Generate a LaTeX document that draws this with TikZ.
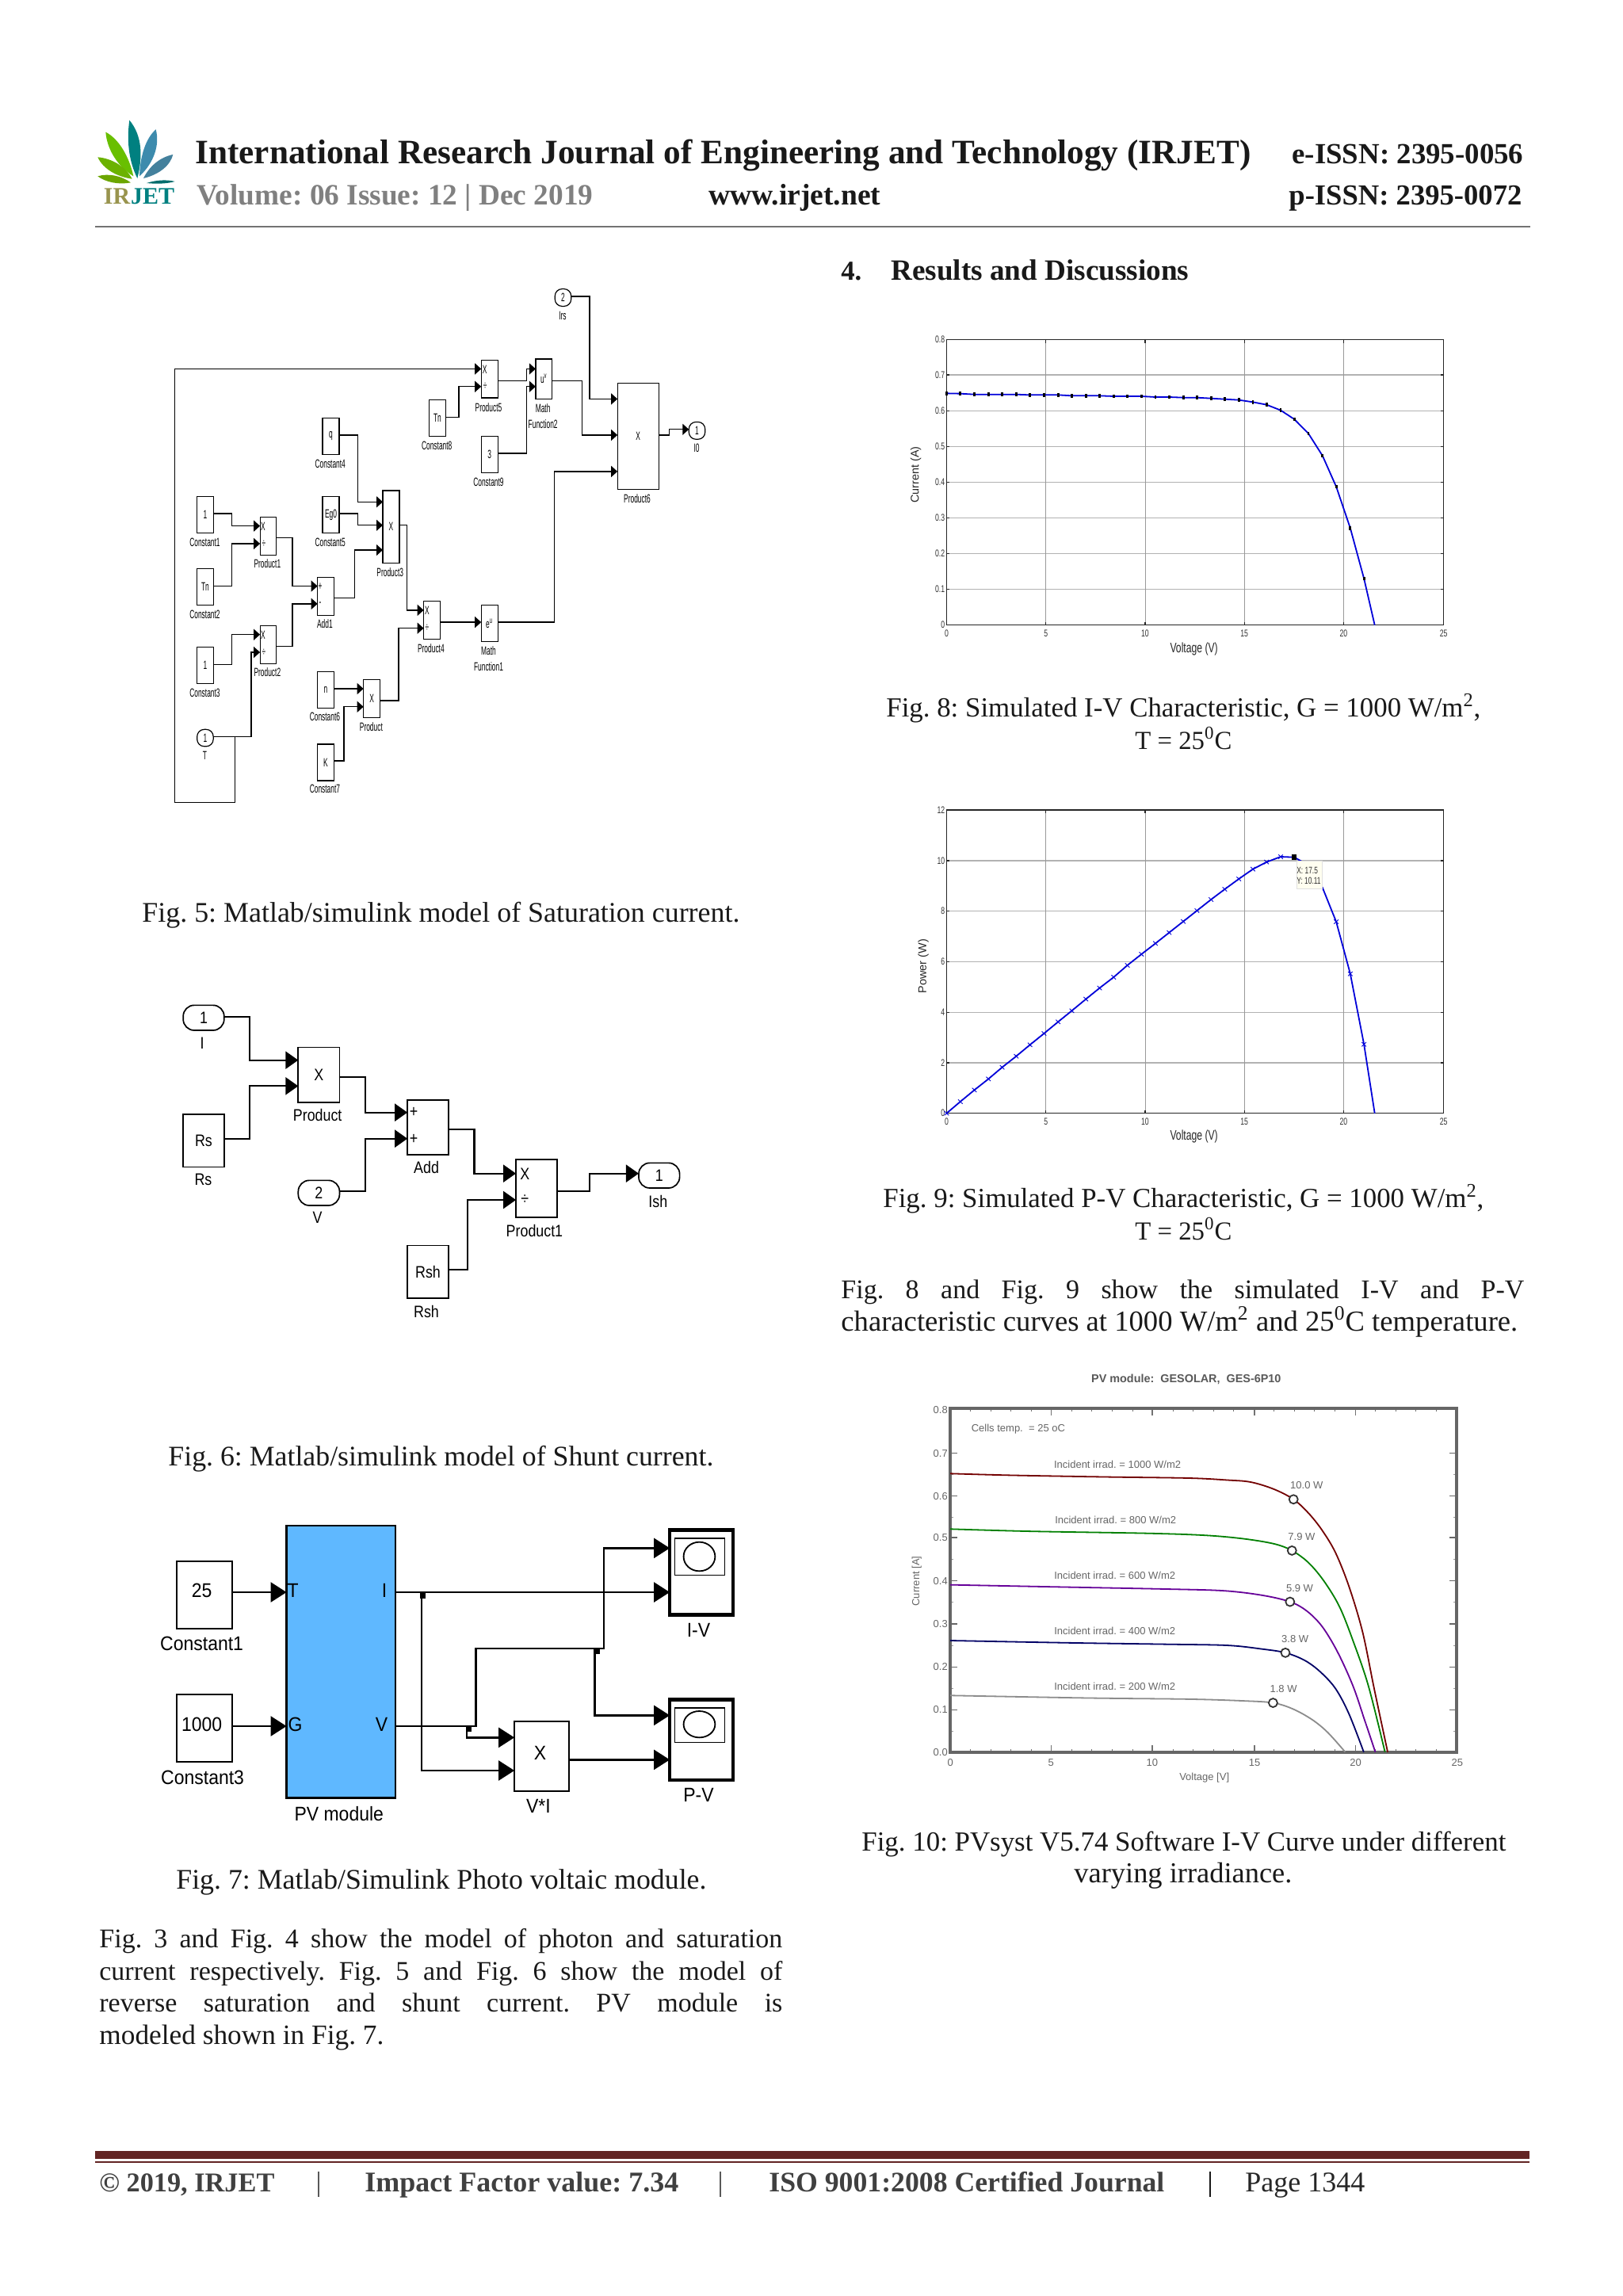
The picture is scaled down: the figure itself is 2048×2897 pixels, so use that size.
\documentclass[tikz,border=0pt]{standalone}
\usepackage{fontspec}
\setmainfont{Liberation Serif}
\newfontfamily\simA[FakeStretch=0.56]{Liberation Sans}
\newfontfamily\simB[FakeStretch=0.85]{Liberation Sans}
\newfontfamily\simC[FakeStretch=0.92]{Liberation Sans}
\newfontfamily\simD[FakeStretch=0.7]{Liberation Sans}
\newfontfamily\simE{Liberation Sans}
\usetikzlibrary{arrows.meta,plotmarks}
\definecolor{pvblue}{HTML}{5FB8FF}
\definecolor{footred}{HTML}{622423}
\frenchspacing
\newcounter{lc}
\newcommand{\setz}[4]{\def\ox{#1}\def\oy{#2}\def\sx{#3}\def\sy{#4}}
\newcommand{\tlab}[4][]{\stepcounter{lc}\node[lab,#1] (n\arabic{lc}) at (#2,#3) {#4};}
\newcommand{\simblk}[7][]{%
  \pgfmathsetmacro\bw{(#5-#3)/\sx*0.5}\pgfmathsetmacro\bh{(#6-#4)/\sy*0.5}%
  \pgfmathsetmacro\bx{(#3+#5)/2}\pgfmathsetmacro\by{(#4+#6)/2}%
  \node[block,minimum width=\bw pt,minimum height=\bh pt,#1] (#2) at (\bx,\by) {#7};}
\newcommand{\simconn}[5]{% src, ysrc, midx, dst, ydst
  \coordinate (Ya) at (0,#2);\coordinate (Yb) at (0,#5);\coordinate (Xm) at (#3,0);
  \draw[wire] (#1.east |- Ya) -- (Xm |- Ya) -- (Xm |- Yb) -- (#4.west |- Yb);}
\newcommand{\simdir}[3]{% src, y, dst
  \coordinate (Ya) at (0,#2);
  \draw[wire] (#1.east |- Ya) -- (#3.west |- Ya);}
\newcommand{\txl}[5][]{\pgfmathsetmacro\tw{(#3-#2)*0.5}\pgfmathsetmacro\ty{#4+10}\stepcounter{lc}%
  \node[anchor=base west,inner sep=0,body,#1] (n\arabic{lc}) at (#2,\ty) {\resizebox{\tw pt}{!}{#5}};}
\newcommand{\txj}[5][]{\pgfmathsetmacro\tw{(#3-#2)*0.5}\pgfmathsetmacro\ty{#4+10}\stepcounter{lc}%
  \node[anchor=base west,inner sep=0,body,#1] (n\arabic{lc}) at (#2,\ty) {\makebox[\tw pt][s]{#5}};}
\tikzset{
  lab/.style={inner sep=0,outer sep=0},
  block/.style={draw=black,fill=white,inner sep=0,outer sep=0},
  body/.style={font=\fontsize{17}{20}\selectfont,text=black!90},
  hd/.style={font=\fontsize{18}{20}\selectfont\bfseries},
  foot/.style={font=\fontsize{17}{20}\selectfont\bfseries,text=black!75},
  figA/.style={font=\fontsize{7.5}{9}\simA},
  figB/.style={font=\fontsize{10.5}{12}\simB},
  figC/.style={font=\fontsize{12.5}{15}\simC},
  tick/.style={font=\fontsize{6.2}{7}\simD,text=black!80},
  axl/.style={font=\fontsize{8.7}{10}\simD,text=black!85},
  gridH/.style={draw=black!30,line width=.6pt},
  gridV/.style={draw=black!40,line width=.3pt},
  frameP/.style={draw=black!85,line width=.6pt},
  tenlab/.style={font=\fontsize{6.5}{8}\simE,text=black!60},
  tencurve/.style={line width=.9pt,smooth,tension=.55},
  wireA/.style={draw=black,line width=.7pt,-{Triangle[length=4pt,width=7pt]}},
  wireB/.style={draw=black,line width=1.1pt,-{Triangle[length=8pt,width=11pt]}},
  wireC/.style={draw=black,line width=1.2pt,-{Triangle[length=10pt,width=12.5pt]}},
  plainC/.style={draw=black,line width=1.1pt},
}
\begin{document}
\begin{tikzpicture}[x=0.5pt,y=-0.5pt]
\useasboundingbox (0,0) rectangle (2048,2897);
\fill[white] (0,0) rectangle (2048,2897);

%% --- header logo
\begin{scope}[shift={(105,135)},xscale=1/3,yscale=1/3]
\fill[teal!75!cyan!80!black] (205,270) .. controls (225,190) and (225,110) .. (175,50) .. controls (165,120) and (170,200) .. (205,270) -- cycle;
\fill[cyan!55!teal!85!black] (213,262) .. controls (270,210) and (290,140) .. (275,85) .. controls (235,120) and (215,190) .. (213,262) -- cycle;
\fill[cyan!45!teal!80!black] (228,270) .. controls (290,255) and (330,220) .. (340,180) .. controls (290,190) and (250,225) .. (228,270) -- cycle;
\fill[teal!85!black] (240,288) .. controls (280,275) and (320,275) .. (347,282) .. controls (320,290) and (280,292) .. (240,288) -- cycle;
\fill[green!45!yellow!75!black] (190,262) .. controls (175,190) and (135,120) .. (85,95) .. controls (90,160) and (130,225) .. (190,262) -- cycle;
\fill[green!40!yellow!70!black] (185,272) .. controls (160,225) and (110,195) .. (55,190) .. controls (75,235) and (130,265) .. (185,272) -- cycle;
\fill[green!35!yellow!65!black] (180,286) .. controls (145,260) and (95,250) .. (55,262) .. controls (85,285) and (135,295) .. (180,286) -- cycle;
\tlab[font=\fontsize{15}{16}\selectfont\bfseries,text=olive!70!black!70]{128}{338}{IR}
\tlab[font=\fontsize{15}{16}\selectfont\bfseries,text=teal]{263}{338}{JET}
\end{scope}

%% --- header text
\txl[hd]{246}{1578}{196}{International Research Journal of Engineering and Technology (IRJET)}
\txl[hd]{1630}{1922}{196}{e-ISSN: 2395-0056}
\txl[hd,text=black!50]{248}{748}{248}{Volume: 06 Issue: 12 | Dec 2019}
\txl[hd]{894}{1111}{248}{www.irjet.net}
\txl[hd]{1626}{1920}{248}{p-ISSN: 2395-0072}
\draw[black!55,line width=1.3pt] (120,286) -- (1931,286);

%% --- Fig 5
\setz{200}{340}{2.053}{2.24}
\begin{scope}[shift={(\ox,\oy)},xscale=1/\sx,yscale=1/\sy,figA,
   block/.append style={line width=.6pt},wire/.style={wireA}]
\simblk{c1}{100}{642}{142}{745}{1}
\simblk{c2}{100}{846}{142}{949}{Tn}
\simblk{c3}{100}{1068}{142}{1171}{1}
\simblk[rounded corners=4.5pt]{tT}{100}{1300}{142}{1348}{1}
\simblk{p1}{263}{700}{305}{807}{}
\simblk{p2}{263}{1007}{305}{1114}{}
\simblk{add1}{412}{870}{454}{977}{}
\simblk{c4}{425}{420}{468}{523}{q}
\simblk{c5}{425}{642}{468}{745}{Eg0}
\simblk{p3}{581}{625}{624}{830}{X}
\simblk{p4}{687}{938}{730}{1045}{}
\simblk{mf1}{836}{949}{879}{1052}{e\textsuperscript{u}}
\simblk{c6}{412}{1136}{454}{1239}{n}
\simblk{c7}{412}{1342}{454}{1445}{K}
\simblk{p0}{531}{1160}{574}{1267}{X}
\simblk{p5}{836}{256}{879}{363}{}
\simblk{c8}{701}{369}{744}{472}{Tn}
\simblk{c9}{836}{471}{879}{574}{3}
\simblk{mf2}{977}{253}{1020}{366}{u\textsuperscript{v}}
\simblk{p6}{1189}{322}{1296}{622}{X}
\simblk[rounded corners=4.5pt]{irs}{1027}{55}{1069}{104}{2}
\simblk[rounded corners=4.5pt]{i0}{1374}{431}{1416}{480}{1}
\foreach \xx/\yy in {271/727,696/965,845/283}{\tlab{\xx}{\yy}{X}}
\tlab{271}{1033}{X}
\foreach \xx/\yy in {273/775,696/1014,846/331}{\tlab{\xx}{\yy}{÷}}
\tlab{273}{1082}{÷}
\tlab{419}{896}{+}\tlab{419}{945}{-}
\tlab{120}{772}{Constant1}\tlab{120}{975}{Constant2}\tlab{120}{1197}{Constant3}\tlab{120}{1375}{T}
\tlab{282}{832}{Product1}\tlab{282}{1138}{Product2}\tlab{431}{1002}{Add1}
\tlab{445}{549}{Constant4}\tlab{445}{771}{Constant5}\tlab{600}{855}{Product3}
\tlab{706}{1070}{Product4}\tlab{855}{1078}{Math}\tlab{855}{1122}{Function1}
\tlab{431}{1265}{Constant6}\tlab{431}{1469}{Constant7}\tlab{551}{1292}{Product}
\tlab{855}{390}{Product5}\tlab{721}{497}{Constant8}\tlab{855}{601}{Constant9}
\tlab{996}{393}{Math}\tlab{996}{436}{Function2}\tlab{1240}{648}{Product6}
\tlab{1047}{130}{Irs}\tlab{1394}{505}{I0}
\simconn{c1}{690}{190}{p1}{725}
\simconn{c2}{895}{190}{p1}{775}
\simconn{p1}{758}{347}{add1}{895}
\simconn{p2}{1065}{347}{add1}{945}
\simconn{c3}{1116}{190}{p2}{1032}
\simconn{tT}{1321}{240}{p2}{1082}
\coordinate (jT) at (198,1321);\coordinate (lb1) at (198,1507);\coordinate (lb2) at (42,1507);
\coordinate (lb3) at (42,281);
\draw[wire] (jT) -- (lb1) -- (lb2) -- (lb3) -- (p5.west |- lb3);
\simconn{add1}{929}{508}{p3}{793}
\simconn{c4}{468}{516}{p3}{657}
\simconn{c5}{690}{516}{p3}{723}
\simconn{p3}{723}{643}{p4}{963}
\simconn{p0}{1219}{622}{p4}{1014}
\simdir{c6}{1185}{p0}
\simconn{c7}{1389}{480}{p0}{1236}
\simdir{p4}{997}{mf1}
\simconn{mf1}{997}{1025}{p6}{571}
\simconn{c8}{418}{778}{p5}{331}
\simconn{p5}{315}{954}{mf2}{281}
\simconn{c9}{520}{954}{mf2}{331}
\simconn{mf2}{315}{1097}{p6}{468}
\simconn{irs}{76}{1117}{p6}{366}
\simconn{p6}{468}{1323}{i0}{452}
\end{scope}

%% --- Fig 6
\setz{200}{1240}{2.053}{3}
\begin{scope}[shift={(\ox,\oy)},xscale=1/\sx,yscale=1/\sy,figB,
   block/.append style={line width=.85pt},wire/.style={wireB}]
\simblk[rounded corners=7pt]{sI}{64}{85}{170}{180}{1}
\simblk{sRs}{64}{497}{170}{697}{Rs}
\simblk{sP}{362}{244}{469}{452}{X}
\simblk{sAdd}{645}{443}{751}{650}{}
\simblk[rounded corners=7pt]{sV}{362}{748}{469}{843}{2}
\simblk{sP1}{926}{668}{1033}{888}{}
\simblk[rounded corners=7pt]{sIsh}{1244}{682}{1350}{777}{1}
\simblk{sRsh}{645}{994}{751}{1194}{Rsh}
\tlab{661}{491}{+}\tlab{661}{592}{+}\tlab{949}{725}{X}\tlab{949}{822}{÷}
\tlab{113}{228}{I}\tlab{116}{745}{Rs}\tlab{412}{500}{Product}\tlab{694}{700}{Add}
\tlab{412}{890}{V}\tlab{974}{938}{Product1}\tlab{1294}{827}{Ish}\tlab{694}{1245}{Rsh}
\simconn{sI}{128}{236}{sP}{293}
\simconn{sRs}{590}{236}{sP}{391}
\simconn{sP}{357}{535}{sAdd}{491}
\simconn{sV}{790}{535}{sAdd}{590}
\simconn{sAdd}{556}{818}{sP1}{722}
\simconn{sRsh}{1087}{800}{sP1}{822}
\simconn{sP1}{788}{1117}{sIsh}{722}
\end{scope}

%% --- Fig 7
\setz{180}{1900}{2.01}{3}
\begin{scope}[shift={(\ox,\oy)},xscale=1/\sx,yscale=1/\sy,figC,
   block/.append style={line width=1pt},wire/.style={wireC}]
\simblk{k25}{87}{210}{227}{465}{}
\simblk{k1000}{87}{715}{227}{970}{}
\simblk[fill=pvblue,line width=1.3pt]{pv}{365}{75}{641}{1105}{}
\simblk[line width=2.2pt]{siv}{1337}{92}{1497}{413}{}
\simblk[line width=2.2pt]{spv}{1337}{733}{1497}{1038}{}
\simblk[line width=.8pt]{siv2}{1350}{123}{1476}{263}{}
\simblk[line width=.8pt]{spv2}{1350}{765}{1476}{895}{}
\simblk{vi}{943}{817}{1082}{1080}{}
\draw[line width=.9pt] (1412,192) ellipse (40 and 55);
\draw[line width=.9pt] (1412,827) ellipse (40 and 50);
\tlab{150}{320}{25}\tlab{150}{827}{1000}
\tlab{381}{320}{T}\tlab{387}{827}{G}\tlab{613}{320}{I}\tlab{606}{827}{V}
\tlab{1008}{937}{X}
\tlab{150}{522}{Constant1}\tlab{152}{1030}{Constant3}\tlab{498}{1165}{PV module}
\tlab{1410}{472}{I-V}\tlab{1410}{1095}{P-V}\tlab{1004}{1137}{V*I}
\simdir{k25}{327}{pv}
\simdir{k1000}{834}{pv}
\simdir{pv}{327}{siv}
\coordinate (j1) at (708,327);\coordinate (j1b) at (708,1002);
\draw[wire] (j1) -- (j1b) -- (vi.west |- j1b);
\coordinate (vA) at (0,834);\coordinate (vB) at (845,834);\coordinate (vC) at (845,540);
\coordinate (vD) at (1170,540);\coordinate (vE) at (1170,160);
\draw[wire] (pv.east |- vA) -- (vB) -- (vC) -- (vD) -- (vE) -- (siv.west |- vE);
\coordinate (j2) at (822,834);\coordinate (j2b) at (822,877);
\draw[wire] (j2) -- (j2b) -- (vi.west |- j2b);
\coordinate (j3) at (1147,540);\coordinate (j3b) at (1147,793);
\draw[wire] (j3) -- (j3b) -- (spv.west |- j3b);
\simdir{vi}{961}{spv}
\fill (703,327) rectangle (718,350);\fill (820,834) rectangle (835,855);\fill (1145,540) rectangle (1160,560);
\end{scope}

%% --- Fig 8 I-V plot
\setz{1130}{400}{2.14}{3}
\begin{scope}[shift={(\ox,\oy)},xscale=1/\sx,yscale=1/\sy]
\foreach \yy in {219,355,490,626,760,895,1031}{\draw[gridH] (138,\yy) -- (1480,\yy);
  \draw[frameP] (138,\yy) -- (146,\yy) (1480,\yy) -- (1472,\yy);}
\foreach \xx in {406,674,942,1210}{\draw[gridV] (\xx,86) -- (\xx,1166);
  \draw[frameP] (\xx,86) -- (\xx,98) (\xx,1166) -- (\xx,1154);}
\draw[frameP] (138,86) rectangle (1480,1166);
\foreach \yy/\vv in {86/0.8,219/0.7,355/0.6,490/0.5,626/0.4,760/0.3,895/0.2,1031/0.1,1166/0}
  {\tlab[tick,anchor=east]{133}{\yy}{\vv}}
\foreach \xx/\vv in {138/0,406/5,674/10,942/15,1210/20,1480/25}
  {\tlab[tick]{\xx}{1197}{\vv}}
\tlab[axl]{806}{1258}{Voltage (V)}
\tlab[font=\fontsize{7.2}{9}\simE,text=black!85,rotate=90]{55}{597}{Current (A)}
\draw[blue!85!black,line width=.9pt] plot coordinates {(138,289) (175,290) (213,293) (251,293) (288,293) (326,293) (363,295) (401,295) (439,295) (476,298) (514,298) (551,298) (589,300) (626,300) (664,300) (702,303) (739,303) (777,305) (814,305) (852,308) (889,311) (927,314) (965,322) (1002,332) (1040,353) (1077,387) (1115,441) (1153,525) (1190,642) (1228,799) (1265,990) (1294,1166)};
\foreach \xx/\yy in {138/289,175/290,213/293,251/293,288/293,326/293,363/295,401/295,439/295,476/298,514/298,551/298,589/300,626/300,664/300,702/303,739/303,777/305,814/305,852/308,889/311,927/314,965/322,1002/332,1040/353,1077/387,1115/441,1153/525,1190/642,1228/799,1265/990}
  {\fill[black] (\xx-3,\yy-7) rectangle (\xx+3,\yy+7);}
\end{scope}

%% --- Fig 9 P-V plot
\setz{1130}{1000}{2.14}{3}
\begin{scope}[shift={(\ox,\oy)},xscale=1/\sx,yscale=1/\sy]
\foreach \yy in {258,449,640,832,1023}{\draw[gridH] (138,\yy) -- (1480,\yy);
  \draw[frameP] (138,\yy) -- (146,\yy) (1480,\yy) -- (1472,\yy);}
\foreach \xx in {406,674,942,1210}{\draw[gridV] (\xx,66) -- (\xx,1214);
  \draw[frameP] (\xx,66) -- (\xx,78) (\xx,1214) -- (\xx,1202);}
\draw[frameP] (138,66) rectangle (1480,1214);
\foreach \yy/\vv in {66/12,258/10,449/8,640/6,832/4,1023/2,1214/0}
  {\tlab[tick,anchor=east]{133}{\yy}{\vv}}
\foreach \xx/\vv in {138/0,406/5,674/10,942/15,1210/20,1480/25}
  {\tlab[tick]{\xx}{1245}{\vv}}
\tlab[axl]{806}{1303}{Voltage (V)}
\tlab[font=\fontsize{7.2}{9}\simE,text=black!85,rotate=90]{75}{657}{Power (W)}
\draw[blue!85!black,line width=.9pt] plot coordinates {(138,1214) (175,1170) (213,1126) (251,1084) (288,1040) (326,998) (363,955) (401,912) (439,868) (476,826) (514,782) (551,740) (589,699) (626,654) (664,612) (702,571) (739,530) (777,488) (814,447) (852,405) (889,366) (927,327) (965,290) (1002,263) (1040,243) (1077,245) (1115,275) (1153,360) (1190,489) (1228,686) (1265,953) (1294,1214)};
\foreach \xx/\yy in {138/1214,175/1170,213/1126,251/1084,288/1040,326/998,363/955,401/912,439/868,476/826,514/782,551/740,589/699,626/654,664/612,702/571,739/530,777/488,814/447,852/405,889/366,927/327,965/290,1002/263,1040/243,1190/489,1228/686,1265/953}
  {\draw[blue!85!black,line width=.45pt] (\xx-6,\yy-8) -- (\xx+6,\yy+8) (\xx-6,\yy+8) -- (\xx+6,\yy-8);}
\fill[black] (1071,234) rectangle (1082,256);
\simblk[fill=yellow!6,draw=black!12,line width=.3pt]{tip}{1084}{260}{1152}{365}{}
\tlab[tick,font=\fontsize{6}{7}\simD]{1112}{295}{X: 17.5}
\tlab[tick,font=\fontsize{6}{7}\simD]{1116}{333}{Y: 10.11}
\end{scope}

%% --- Fig 10
\setz{1130}{1720}{2.053}{2.8}
\begin{scope}[shift={(\ox,\oy)},xscale=1/\sx,yscale=1/\sy]
\foreach \ii in {0,...,25}{\pgfmathsetmacro\xx{142+\ii*52.44}
  \draw[black!55,line width=.5pt] (\xx,160) -- (\xx,170) (\xx,1374) -- (\xx,1364);}
\foreach \xx in {403,665,930,1192}{\draw[black!55,line width=.6pt] (\xx,160) -- (\xx,185) (\xx,1374) -- (\xx,1350);}
\foreach \yy in {318,470,616,769,921,1073,1225}{\draw[black!60,line width=.6pt] (142,\yy) -- (160,\yy) (1453,\yy) -- (1435,\yy);}
\foreach \yy in {394,543,692,845,997,1149,1300}{\draw[black!40,line width=.4pt] (142,\yy) -- (150,\yy) (1453,\yy) -- (1445,\yy);}
\draw[black!60,line width=1.8pt] (142,160) rectangle (1453,1374);
\tlab[font=\fontsize{7.2}{9}\simE\bfseries,text=black!65]{753}{57}{PV module:\ \ GESOLAR,\ \ GES-6P10}
\foreach \yy/\vv in {165/0.8,318/0.7,470/0.6,616/0.5,769/0.4,921/0.3,1073/0.2,1225/0.1,1376/0.0}
  {\tlab[tenlab,anchor=east]{135}{\yy}{\vv}}
\foreach \xx/\vv in {142/0,403/5,665/10,930/15,1192/20,1455/25}
  {\tlab[tenlab]{\xx}{1412}{\vv}}
\tlab[tenlab]{800}{1466}{Voltage [V]}
\tlab[tenlab,rotate=90]{55}{770}{Current [A]}
\tlab[tenlab]{318}{232}{Cells temp.\ \ = 25 oC}
\tlab[tenlab]{575}{358}{Incident irrad. = 1000 W/m2}
\tlab[tenlab]{570}{553}{Incident irrad. = 800 W/m2}
\tlab[tenlab]{568}{750}{Incident irrad. = 600 W/m2}
\tlab[tenlab]{568}{946}{Incident irrad. = 400 W/m2}
\tlab[tenlab]{568}{1141}{Incident irrad. = 200 W/m2}
\tlab[tenlab]{1065}{432}{10.0 W}\tlab[tenlab]{1052}{613}{7.9 W}\tlab[tenlab]{1047}{795}{5.9 W}
\tlab[tenlab]{1035}{975}{3.8 W}\tlab[tenlab]{1005}{1152}{1.8 W}
\draw[tencurve,draw=red!45!black] plot[smooth,tension=.55] coordinates {(142,390) (300,396) (550,402) (760,406) (860,413) (920,420) (980,445) (1031,481) (1070,530) (1105,590) (1140,670) (1175,790) (1210,950) (1240,1150) (1275,1374)};
\draw[tencurve,draw=green!50!black] plot[smooth,tension=.55] coordinates {(142,586) (350,594) (650,601) (800,608) (900,620) (980,638) (1027,662) (1070,705) (1110,770) (1150,860) (1185,980) (1225,1140) (1268,1374)};
\draw[tencurve,draw=violet!80!blue] plot[smooth,tension=.55] coordinates {(142,783) (400,790) (700,798) (850,804) (950,820) (1022,843) (1065,875) (1105,930) (1145,1020) (1185,1140) (1215,1260) (1243,1374)};
\draw[tencurve,draw=blue!40!black] plot[smooth,tension=.55] coordinates {(142,980) (450,988) (700,993) (860,997) (950,1010) (1010,1023) (1060,1050) (1100,1090) (1140,1150) (1175,1240) (1213,1374)};
\draw[tencurve,draw=black!45] plot[smooth,tension=.55] coordinates {(142,1174) (500,1183) (760,1187) (900,1193) (978,1200) (1030,1222) (1080,1260) (1120,1305) (1165,1374)};
\foreach \xx/\yy in {1031/481,1027/662,1022/843,1010/1023,978/1200}
  {\tlab[circle,draw=black!80,fill=white,line width=.9pt,minimum size=5.5pt]{\xx}{\yy}{}}
\end{scope}

%% --- page text
\txl{179}{933}{1153}{Fig. 5: Matlab/simulink model of Saturation current.}
\txl{212}{900}{1839}{Fig. 6: Matlab/simulink model of Shunt current.}
\txl{222}{891}{2373}{Fig. 7: Matlab/Simulink Photo voltaic module.}
\txj{125}{987}{2447}{Fig. 3 and Fig. 4 show the model of photon and saturation}
\txj{125}{987}{2488}{current respectively. Fig. 5 and Fig. 6 show the model of}
\txj{125}{987}{2528}{reverse saturation and shunt current. PV module is}
\txl{125}{484}{2569}{modeled shown in Fig. 7.}
\txl[font=\fontsize{17}{20}\selectfont\bfseries]{1061}{1087}{343}{4.}
\txl[font=\fontsize{17}{20}\selectfont\bfseries]{1124}{1500}{343}{Results and Discussions}
\txl{1118}{1868}{894}{Fig. 8: Simulated I-V Characteristic, G = 1000 W/m\textsuperscript{2},}
\txl{1432}{1554}{935}{T = 25\textsuperscript{0}C}
\txl{1114}{1872}{1513}{Fig. 9: Simulated P-V Characteristic, G = 1000 W/m\textsuperscript{2},}
\txl{1432}{1554}{1554}{T = 25\textsuperscript{0}C}
\txj{1061}{1923}{1628}{Fig. 8 and Fig. 9 show the simulated I-V and P-V}
\txl{1061}{1915}{1669}{characteristic curves at 1000 W/m\textsuperscript{2} and 25\textsuperscript{0}C temperature.}
\txl{1087}{1900}{2325}{Fig. 10: PVsyst V5.74 Software I-V Curve under different}
\txl{1355}{1630}{2365}{varying irradiance.}

%% --- footer
\fill[footred] (120,2714) rectangle (1930,2724);
\fill[footred] (120,2727) rectangle (1930,2729);
\txl[foot]{125}{346}{2755}{© 2019, IRJET}
\txl[foot]{460}{856}{2755}{Impact Factor value: 7.34}
\txl[foot]{970}{1469}{2755}{ISO 9001:2008 Certified Journal}
\txl[foot,font=\fontsize{17}{20}\selectfont,text=black!85]{1571}{1722}{2755}{Page 1344}
\draw[black!65,line width=.8pt] (402,2740) -- (402,2772);
\draw[black!65,line width=.8pt] (909,2740) -- (909,2772);
\draw[black!90,line width=.8pt] (1527,2740) -- (1527,2772);
\end{tikzpicture}
\end{document}
